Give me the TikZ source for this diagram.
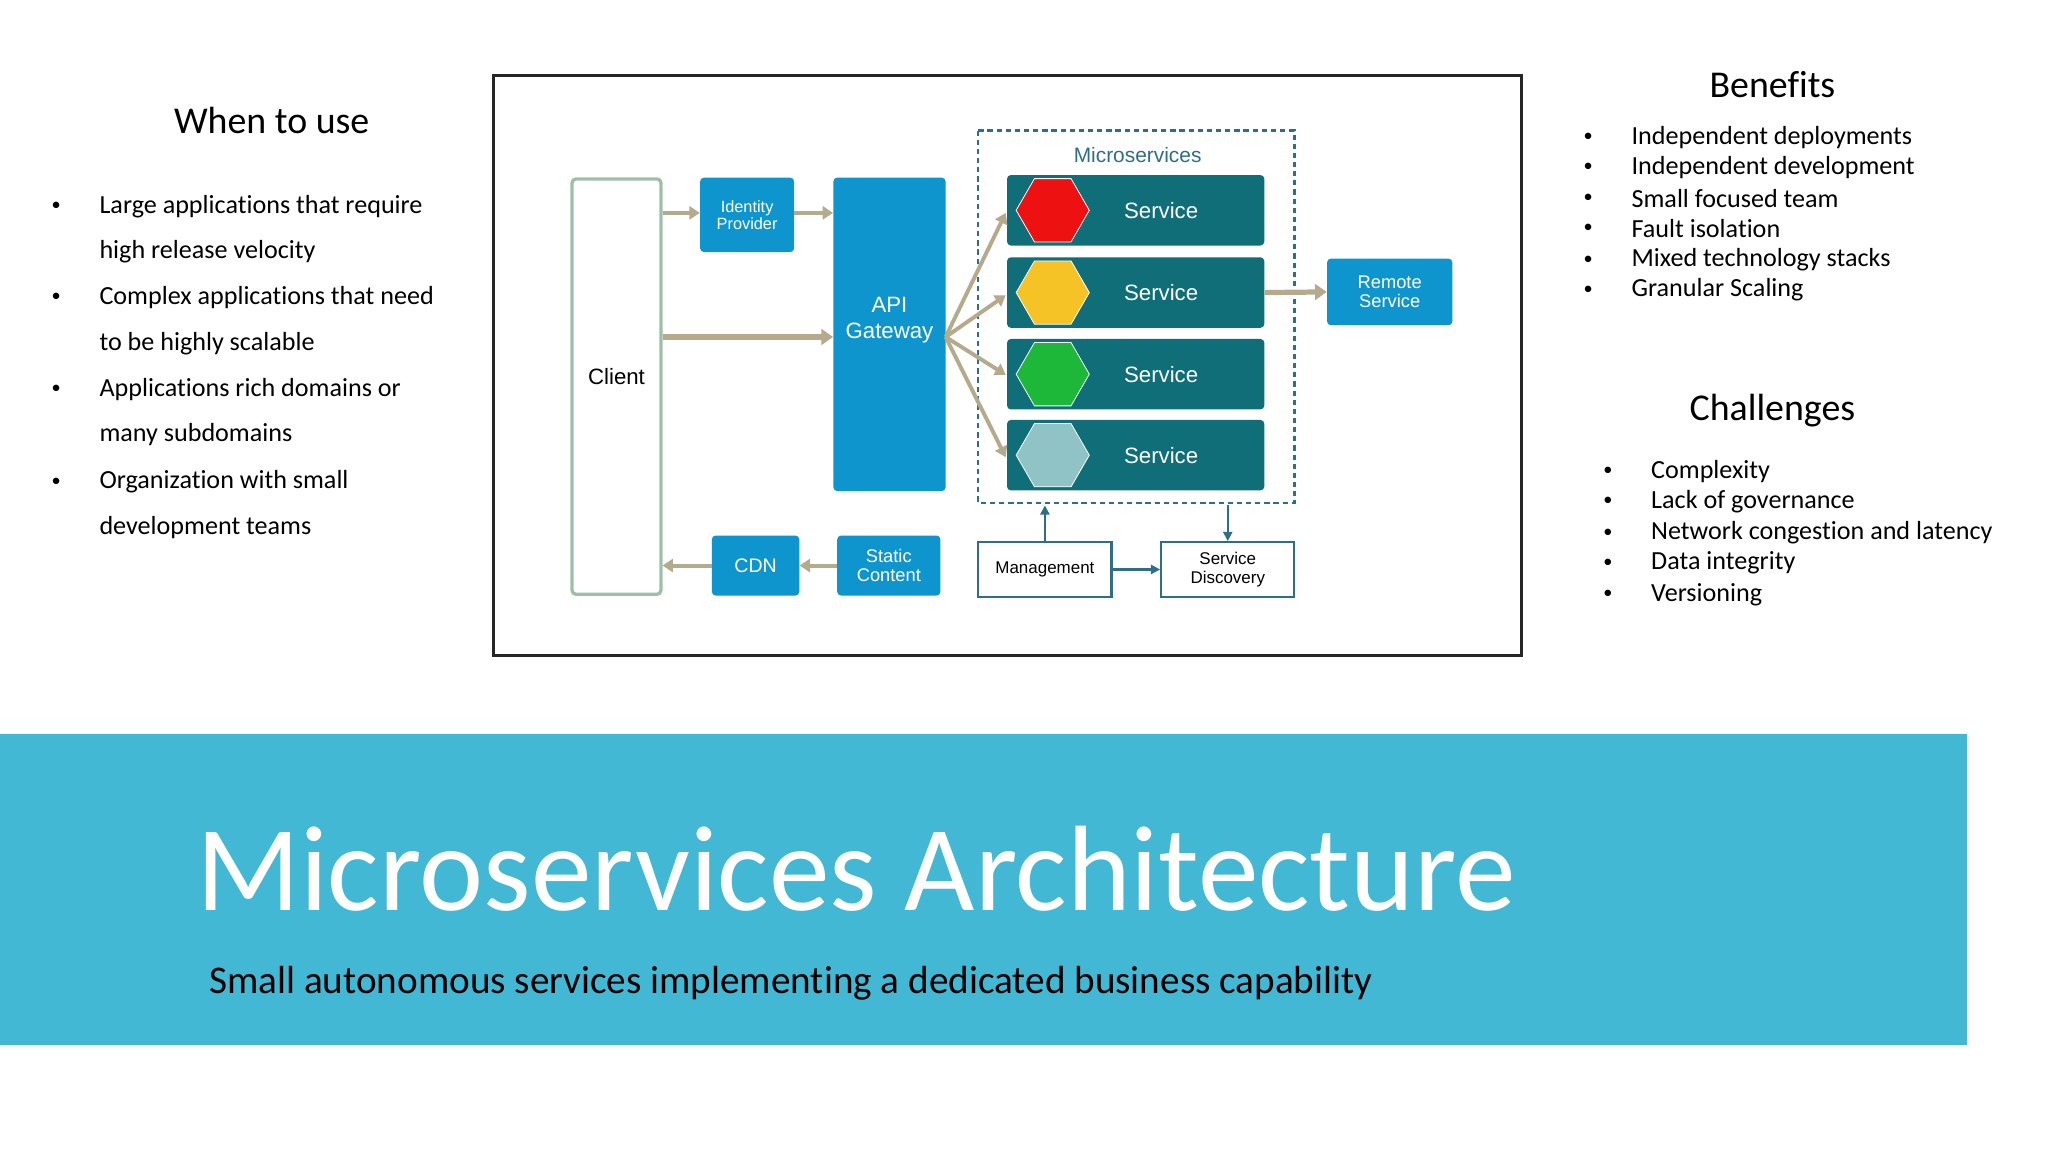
\documentclass[tikz,border=0pt]{standalone}
\usepackage{fontspec}
\setmainfont{Carlito}[RawFeature={-liga}]
\newfontfamily\dsans{Liberation Sans}
\usetikzlibrary{shapes.geometric,arrows.meta}
\definecolor{band}{HTML}{42B8D4}
\definecolor{bluebox}{HTML}{0E95CE}
\definecolor{svc}{HTML}{0F6E78}
\definecolor{tan}{HTML}{B5AA8C}
\definecolor{dblue}{HTML}{2D6E8A}
\definecolor{clientb}{HTML}{9DBFA8}
\tikzset{
 bbox/.style={fill=bluebox,rounded corners=3pt,text=white,font=\dsans\fontsize{12.5}{13}\selectfont,align=center,inner sep=0},
 sbox/.style={fill=svc,rounded corners=3pt,inner sep=0},
 hex/.style={regular polygon,regular polygon sides=6,minimum size=56pt,inner sep=0,draw=white,line width=0.6pt},
 wbox/.style={draw=dblue,line width=1.6pt,fill=white,font=\dsans\fontsize{13}{14}\selectfont,align=center,inner sep=0},
 tarr/.style={draw=tan,line width=4pt,-{Triangle[length=9pt,width=12pt]}},
 tarr2/.style={draw=tan,line width=3pt,-{Triangle[length=8pt,width=10pt]}},
 barr/.style={draw=dblue,line width=1.6pt,-{Triangle[length=7pt,width=7pt]}},
 head/.style={font=\fontsize{29}{30}\selectfont},
 item/.style={font=\fontsize{20}{21}\selectfont,anchor=west,inner sep=0},
 bul/.style={font=\fontsize{14}{15}\selectfont,inner sep=0},
}
\begin{document}
\begin{tikzpicture}[x=1pt,y=-1pt]
\useasboundingbox[fill=white] (0,0) rectangle (1568,882);
% band
\fill[band] (0,562) rectangle (1506,800);
\node[anchor=base west,text=white,font=\fontsize{93}{96}\selectfont,inner sep=0] (title) at (150,697) {Microservices Architecture};
\node[anchor=base west,font=\fontsize{30}{31}\selectfont,inner sep=0] (sub) at (160,761) {Small autonomous services implementing a dedicated business capability};
% left column
\node[head] (wtu) at (208,92) {When to use};
\foreach \y/\t in {158/Large applications that require,193/high release velocity,228/Complex applications that need,263/to be highly scalable,298/Applications rich domains or,333/many subdomains,369/Organization with small,404/development teams}
  \node[item] at (76,\y) {\t};
\foreach \y in {158,228,298,369} \node[bul] at (43,\y) {•};
% right column
\node[head] (ben) at (1357,65) {Benefits};
\foreach \y/\t in {105/Independent deployments,128/Independent development,152/Small focused team,175/Fault isolation,199/Mixed technology stacks,222/Granular Scaling}
 {\node[item] at (1249,\y) {\t}; \node[bul] at (1216,\y) {•};}
\node[head] (cha) at (1357,314) {Challenges};
\foreach \y/\t in {361/Complexity,384/Lack of governance,408/Network congestion and latency,431/Data integrity,455/Versioning}
 {\node[item] at (1264,\y) {\t}; \node[bul] at (1231,\y) {•};}
% frame
\draw[line width=2.2pt,draw=black!85] (378,58) rectangle (1165,502);
% diagram
\node[draw=clientb,line width=2.5pt,fill=white,rounded corners=3pt,minimum width=68pt,minimum height=318pt,inner sep=0] (client) at (472,296) {};
\node[font=\dsans\fontsize{17}{18}\selectfont] (clientlab) at (472,288) {Client};
\node[bbox,minimum width=72pt,minimum height=57pt] (idp) at (572,164.5) {Identity\\Provider};
\node[bbox,minimum width=86pt,minimum height=240pt] (api) at (681,256) {};
\node[text=white,align=center,font=\dsans\fontsize{17}{20}\selectfont] (apilab) at (681,245) {API\\Gateway};
\draw[dblue,line width=1.8pt,dash pattern=on 4pt off 3pt] (749,100) rectangle (991,385);
\node[text=dblue,font=\dsans\fontsize{16}{17}\selectfont] (mslab) at (871,119) {Microservices};
\foreach \i/\yc in {1/161,2/224,3/286.5,4/348.5}{
  \node[sbox,minimum width=197pt,minimum height=54pt] (s\i) at (869.5,\yc) {};
  \node[text=white,font=\dsans\fontsize{17}{18}\selectfont] at (889,\yc) {Service};
}
\definecolor{hred}{HTML}{EE1111}\definecolor{hyel}{HTML}{F6C327}\definecolor{hgrn}{HTML}{1DB73A}\definecolor{hgry}{HTML}{8FC3C5}
\node[hex,fill=hred] at (806,161) {};
\node[hex,fill=hyel] at (806,224) {};
\node[hex,fill=hgrn] at (806,286.5) {};
\node[hex,fill=hgry] at (806,348.5) {};
\node[bbox,minimum width=96pt,minimum height=51pt,font=\dsans\fontsize{14}{15}\selectfont] (remote) at (1064,223.5) {Remote\\Service};
\node[bbox,minimum width=67pt,minimum height=46pt,font=\dsans\fontsize{15}{16}\selectfont] (cdn) at (578.5,433) {CDN};
\node[bbox,minimum width=79pt,minimum height=46pt,font=\dsans\fontsize{14}{15}\selectfont] (static) at (680.5,433) {Static\\Content};
\node[wbox,minimum width=102pt,minimum height=42pt] (mgmt) at (800,436) {Management};
\node[wbox,minimum width=102pt,minimum height=42pt] (disc) at (940,436) {Service\\Discovery};
\coordinate (msTopMg) at (800,387);
\coordinate (msBotDs) at (940,387);
% arrows
\draw[tarr2] (client.east |- 0,163) -- (idp.west |- 0,163);
\draw[tarr2] (idp.east |- 0,163) -- (api.west |- 0,163);
\draw[tarr] (client.east |- 0,258) -- (api.west |- 0,258);
\coordinate (fan) at (724,258);
\draw[tarr2] (fan) -- (770,163);
\draw[tarr2] (fan) -- (770,226);
\draw[tarr2] (fan) -- (770,287);
\draw[tarr2] (fan) -- (770,350);
\draw[tarr] (s2.east) -- (remote.west);
\draw[tarr2] (static.west) -- (cdn.east);
\draw[tarr2] (cdn.west) -- (client.east |- 0,433);
\draw[barr] (mgmt.north) -- (msTopMg);
\draw[barr] (msBotDs) -- (disc.north);
\draw[barr] (mgmt.east) -- (disc.west);
\end{tikzpicture}
\end{document}
